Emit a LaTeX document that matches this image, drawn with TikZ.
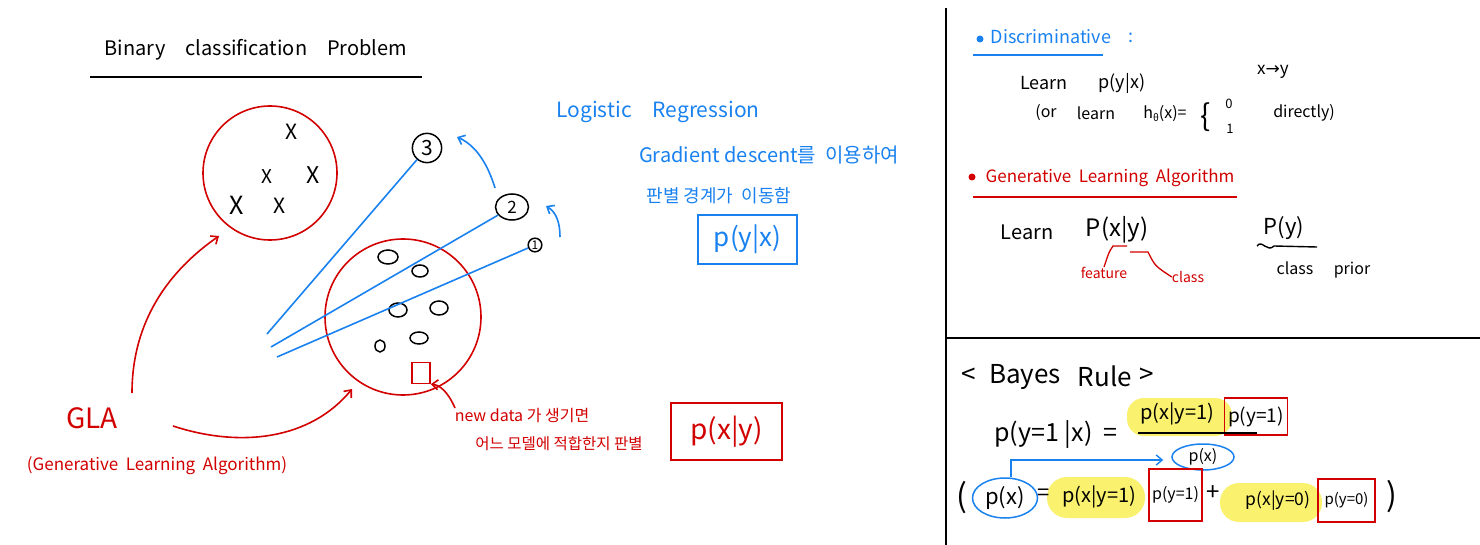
\documentclass[tikz,border=0pt]{standalone}
\usepackage{fontspec}
\setmainfont{Noto Sans CJK KR}
\newfontfamily\dvsans{DejaVu Sans}
\usetikzlibrary{arrows.meta,shapes.geometric,calc}
\definecolor{pred}{RGB}{210,0,0}
\definecolor{pblue}{RGB}{25,130,240}
\definecolor{hl}{RGB}{250,242,110}
\tikzset{
  fsz/.style={font=\fontsize{#1}{#1}\selectfont},
  txt/.style={inner sep=0pt, anchor=center},
  redpen/.style={draw=pred, line width=1.6pt},
  bluepen/.style={draw=pblue, line width=1.6pt},
  blackpen/.style={draw=black, line width=1.5pt},
  arr/.style={-{Straight Barb[length=6pt,width=10pt]}},
  rbox/.style={draw=pred, line width=1.5pt, inner sep=0pt},
  bbox/.style={draw=pblue, line width=1.5pt, inner sep=0pt},
  oval/.style={blackpen}
}
\begin{document}
\begin{tikzpicture}[x=1pt,y=-1pt]
\useasboundingbox (0,0) rectangle (1480,545);
\fill[white] (0,0) rectangle (1480,545);
% dividers
\draw[line width=1.3pt] (946,8) -- (946,545);
\draw[line width=1.3pt] (946,338) -- (1480,338);

% ---------- left part ----------
\node[txt,fsz=20] (title) at (256,50) {Binary\quad classification\quad Problem};
\draw[line width=1.3pt] (90,77) -- (422,77);

\node[circle, redpen, minimum size=134pt, inner sep=0pt] (cx) at (270,173) {};
\node[circle, redpen, minimum size=156pt, inner sep=0pt] (co) at (403,317) {};

\node[txt,fsz=21] (x1) at (292,132) {X};
\node[txt,fsz=19] (x2) at (267,177) {X};
\node[txt,fsz=23] (x3) at (313,175) {X};
\node[txt,fsz=25] (x4) at (237,205) {X};
\node[txt,fsz=21] (x5) at (280,206) {X};

\draw[oval] (388,257) ellipse (10pt and 7pt);
\draw[oval] (420,271) ellipse (8pt and 6pt);
\draw[oval] (398,310) ellipse (9pt and 7pt);
\draw[oval] (439,308) ellipse (9pt and 7pt);
\draw[oval] (419,338) ellipse (9pt and 6pt);
\draw[oval] (380,346) ellipse (5pt and 6pt);

\node[rbox, minimum width=18pt, minimum height=21pt] (sq) at (421,373) {};

\node[circle, blackpen, fsz=21, inner sep=3.5pt] (n3) at (427,148) {3};
\node[ellipse, blackpen, fsz=17, inner sep=1pt, minimum width=33pt, minimum height=26pt] (n2) at (512,207) {2};
\node[circle, blackpen, fsz=12, inner sep=1pt] (n1) at (535,245) {1};

\coordinate (s3) at (267,334);
\coordinate (s2) at (271,347);
\coordinate (s1) at (277,357);
\draw[bluepen] (s3) -- (n3);
\draw[bluepen] (s2) -- (n2);
\draw[bluepen] (s1) -- (n1);

\coordinate (b2s) at (495,188);
\coordinate (b2e) at (457,137);
\draw[bluepen,arr] (b2s) .. controls (487,162) and (475,145) .. (b2e);
\coordinate (b1s) at (560,237);
\coordinate (b1e) at (546,206);
\draw[bluepen,arr] (b1s) .. controls (560,222) and (556,212) .. (b1e);

% GLA
\node[txt,fsz=28,text=pred] (gla) at (92,418) {GLA};
\node[txt,fsz=17,text=pred] (glafull) at (157,466) {(Generative\ \ Learning\ \ Algorithm)};
\coordinate (g1s) at (132,393);
\coordinate (g1e) at (219,236);
\draw[redpen,arr] (g1s) .. controls (132,320) and (170,270) .. (g1e);
\coordinate (g2s) at (173,426);
\coordinate (g2e) at (352,389);
\draw[redpen,arr] (g2s) .. controls (240,448) and (310,440) .. (g2e);

% blue logistic notes
\node[txt,fsz=21,text=pblue] (lr) at (658,112) {Logistic\quad Regression};
\node[txt,fsz=20,text=pblue] (gd) at (769,155) {Gradient descent를\ \ 이용하여};
\node[txt,fsz=18,text=pblue] (mv) at (719,196) {판별 경계가\ \ 이동함};
\node[bbox, minimum width=99pt, minimum height=49pt, fsz=26, text=pblue] (pyx) at (747.5,239.5) {p(y|x)};

% red new data notes
\node[txt,fsz=16,text=pred] (nd1) at (522,416) {new data 가 생기면};
\node[txt,fsz=15.5,text=pred] (nd2) at (559,444) {어느 모델에 적합한지 판별};
\node[rbox, minimum width=111pt, minimum height=57pt, fsz=28, text=pred] (pxy) at (726.5,431.5) {p(x|y)};
\coordinate (nds) at (455,408);
\draw[redpen,arr] (nds) .. controls (448,392) and (440,385) .. (sq.south east);

% ---------- right top ----------
\fill[pblue] (980,39) circle (3.5pt);
\node[txt,fsz=18,text=pblue] (disc) at (1051,37) {Discriminative};
\draw[bluepen] (973,55) -- (1103,55);
\node[txt,fsz=18,text=pblue] (colon) at (1131,38) {:};
\node[txt,fsz=18] (learn1) at (1044,83) {Learn};
\node[txt,fsz=18] (pyx2) at (1122,83) {p(y|x)};
\node[txt,fsz=17] (xy) at (1273,72) {x{\dvsans →}y};
\node[txt,fsz=16] (or) at (1046,113) {(or};
\node[txt,fsz=16] (learn2) at (1096,113) {learn};
\node[txt,fsz=16] (htheta) at (1165,114) {h\raisebox{-3pt}{\fontsize{10}{10}\selectfont θ}(x)=};
\node[txt,fsz=30] (brace) at (1206,117) {\{};
\node[txt,fsz=13] (zero) at (1229,104) {0};
\node[txt,fsz=13] (one) at (1230,129) {1};
\node[txt,fsz=16] (directly) at (1304,113) {directly)};

\fill[pred] (972,177) circle (3.5pt);
\node[txt,fsz=17,text=pred] (gen) at (1110,178) {Generative\ \ Learning\ \ Algorithm};
\draw[redpen] (973,197) -- (1237,197);
\node[txt,fsz=20] (learn3) at (1027,232) {Learn};
\node[txt,fsz=24] (pxy2) at (1117,230) {P(x|y)};
\node[txt,fsz=14,text=pred] (feat) at (1104,273) {feature};
\node[txt,fsz=14,text=pred] (cls) at (1188,277) {class};
\coordinate (f1) at (1127,246);
\coordinate (f2) at (1113,246);
\draw[redpen,line width=1.3pt] (f1) -- (f2) .. controls (1109,252) .. (feat.north);
\coordinate (c1) at (1130,252);
\coordinate (c2) at (1148,252);
\draw[redpen,line width=1.3pt] (c1) -- (c2) .. controls (1155,266) .. (cls.west);
\node[txt,fsz=22] (py) at (1284,228) {P(y)};
\coordinate (w1) at (1257,246);
\coordinate (w2) at (1317,247);
\draw[line width=1.4pt] (w1) .. controls (1262,239) and (1267,253) .. (1274,246) -- (w2);
\node[txt,fsz=16] (clsp) at (1295,268) {class};
\node[txt,fsz=16] (prior) at (1352,270) {prior};

% ---------- Bayes rule ----------
\node[txt,fsz=26] (lt) at (969,376) {<};
\node[txt,fsz=26] (bayes) at (1025,377) {Bayes};
\node[txt,fsz=26] (rule) at (1105,376) {Rule};
\node[txt,fsz=26] (gt) at (1147,376) {>};

\node[txt,fsz=25] (lhs) at (1056,435) {p(y=1 |x)\ \ =};
\fill[hl, rounded corners=17pt] (1127,398) rectangle (1232,436);
\node[txt,fsz=20] (num1) at (1177,414) {p(x|y=1)};
\node[rbox, minimum width=63pt, minimum height=37pt, fsz=19] (rb1) at (1256,416.5) {p(y=1)};
\draw[line width=1.4pt] (1138,433) -- (1257,433);
\node[ellipse, bbox, minimum width=62pt, minimum height=26pt, fsz=16] (den) at (1203,457) {p(x)};

\fill[hl, rounded corners=20pt] (1047,477) rectangle (1145,518);
\fill[hl, rounded corners=19pt] (1220,483) rectangle (1322,522);
\node[txt,fsz=32] (lp) at (962,498) {(};
\node[ellipse, bbox, minimum width=65pt, minimum height=40pt, fsz=22] (pxl) at (1005,498) {p(x)};
\node[txt,fsz=22] (eq) at (1044,495) {=};
\node[txt,fsz=20] (t1) at (1099,497) {p(x|y=1)};
\node[rbox, minimum width=53pt, minimum height=52pt, fsz=16] (rb2) at (1175.5,495) {p(y=1)};
\node[txt,fsz=24] (plus) at (1213,493) {+};
\node[txt,fsz=17.5] (t2) at (1278,501) {p(x|y=0)};
\node[rbox, minimum width=57pt, minimum height=43pt, fsz=15] (rb3) at (1346.5,500.5) {p(y=0)};
\node[txt,fsz=32] (rp) at (1392,497) {)};
\draw[bluepen,line width=1.4pt,arr,shorten >=8pt] ($(pxl.north)+(6,0)$) |- ($(den.west)+(0,3)$);
\end{tikzpicture}
\end{document}
